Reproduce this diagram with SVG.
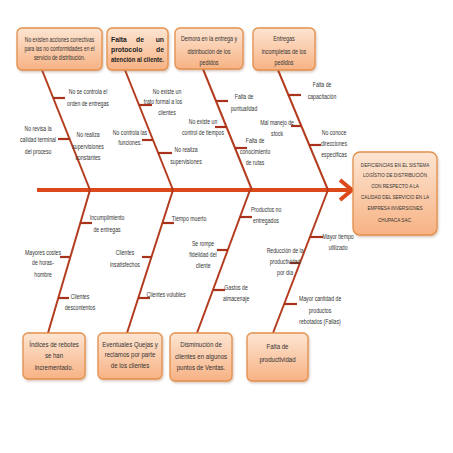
<svg xmlns="http://www.w3.org/2000/svg" width="453" height="453" viewBox="0 0 453 453">
<defs>
<linearGradient id="gb" x1="0" y1="0" x2="0" y2="1">
<stop offset="0" stop-color="#FDE5D2"/>
<stop offset="1" stop-color="#F7B284"/>
</linearGradient>
<filter id="sh" x="-10%" y="-10%" width="130%" height="130%">
<feDropShadow dx="1" dy="1.5" stdDeviation="1" flood-color="#8a5a3a" flood-opacity="0.35"/>
</filter>
</defs>
<style>
.box{fill:url(#gb);stroke:#E3904C;stroke-width:1.3;filter:url(#sh)}
.t,.bt,.tt,.lt,.ht{font-family:"Liberation Sans",Arial,sans-serif;text-anchor:middle;transform:scaleX(0.76);transform-box:fill-box;transform-origin:center}
.t{font-size:6.8px;fill:#333}
.bt{font-size:6.5px;fill:#333}
.tt{font-size:7.1px;fill:#333}
.lt{font-size:8px;fill:#333}
.ht{font-size:6.1px;fill:#333}
.bb{font-family:"Liberation Sans",Arial,sans-serif;font-size:6.8px;fill:#222;font-weight:bold}
.bone{stroke:#B33C1E;stroke-width:2;fill:none}
.rib{stroke:#A8321C;stroke-width:2.2;fill:none}
.spine{stroke:#DC4A1B;stroke-width:4;fill:none}
</style>
<rect width="453" height="453" fill="#ffffff"/>

<g id="connectors">
<line class="spine" x1="37" y1="190" x2="349" y2="190"/>
<path class="spine" d="M340,180 L352,190 L340,200" stroke-linejoin="miter"/>
<line class="bone" x1="42" y1="70" x2="90" y2="190"/>
<line class="bone" x1="125" y1="70" x2="173" y2="190"/>
<line class="bone" x1="203" y1="69" x2="252" y2="190"/>
<line class="bone" x1="278" y1="70" x2="328" y2="190"/>
<line class="bone" x1="90" y1="190" x2="48" y2="333"/>
<line class="bone" x1="173" y1="190" x2="127" y2="333"/>
<line class="bone" x1="250" y1="190" x2="197" y2="333"/>
<line class="bone" x1="328" y1="190" x2="273" y2="333"/>
<line class="rib" x1="53" y1="98" x2="65" y2="98"/>
<line class="rib" x1="58" y1="139" x2="70" y2="139"/>
<line class="rib" x1="139" y1="105" x2="152" y2="105"/>
<line class="rib" x1="142" y1="140" x2="153" y2="140"/>
<line class="rib" x1="158" y1="153" x2="172" y2="153"/>
<line class="rib" x1="216" y1="101" x2="228" y2="101"/>
<line class="rib" x1="215" y1="127" x2="226" y2="127"/>
<line class="rib" x1="235" y1="148" x2="247" y2="148"/>
<line class="rib" x1="288" y1="95" x2="301" y2="95"/>
<line class="rib" x1="291" y1="126" x2="301" y2="126"/>
<line class="rib" x1="309" y1="145" x2="321" y2="145"/>
<line class="rib" x1="80" y1="223" x2="92" y2="223"/>
<line class="rib" x1="60" y1="257" x2="70" y2="257"/>
<line class="rib" x1="58" y1="298" x2="69" y2="298"/>
<line class="rib" x1="162" y1="223" x2="174" y2="223"/>
<line class="rib" x1="142" y1="257" x2="152" y2="257"/>
<line class="rib" x1="138" y1="298" x2="150" y2="298"/>
<line class="rib" x1="240" y1="217" x2="252" y2="217"/>
<line class="rib" x1="217" y1="250" x2="228" y2="250"/>
<line class="rib" x1="213" y1="290" x2="225" y2="290"/>
<line class="rib" x1="310" y1="237" x2="323" y2="237"/>
<line class="rib" x1="290" y1="263" x2="300" y2="263"/>
<line class="rib" x1="284" y1="304" x2="297" y2="304"/>
</g>

<g id="head">
<rect class="box" x="353" y="152" width="84" height="83" rx="7"/>
<text class="ht" x="395" y="167">DEFICIENCIAS EN EL SISTEMA</text>
<text class="ht" x="395" y="177.5">LOGÍSTIO DE DISTRIBUCIÓN</text>
<text class="ht" x="395" y="188.5">CON RESPECTO A LA</text>
<text class="ht" x="395" y="199.5">CALIDAD DEL SERVICIO EN LA</text>
<text class="ht" x="395" y="210.5">EMPRESA INVERSIONES</text>
<text class="ht" x="395" y="222">CHUPACA SAC.</text>
</g>

<g id="cause-top-1">
<rect class="box" x="17" y="28" width="85" height="42" rx="5"/>
<text class="bt" x="59.5" y="42">No existen acciones correctivas</text>
<text class="bt" x="59.5" y="51">para las no conformidades en el</text>
<text class="bt" x="59.5" y="60">servicio de distribución.</text>
</g>
<g id="cause-top-2">
<rect class="box" x="107" y="28" width="61" height="42" rx="5"/>
<text class="bb" y="41.5"><tspan x="111">Falta</tspan><tspan x="140" text-anchor="middle">de</tspan><tspan x="164" text-anchor="end">un</tspan></text>
<text class="bb" y="51.5"><tspan x="111">protocolo</tspan><tspan x="164" text-anchor="end">de</tspan></text>
<text class="bb" x="111" y="61.5" textLength="53" lengthAdjust="spacingAndGlyphs">atención al cliente.</text>
</g>
<g id="cause-top-3">
<rect class="box" x="175" y="28" width="68" height="41" rx="5"/>
<text class="tt" x="209" y="41.5">Demora en la entrega y</text>
<text class="tt" x="209" y="54">distribución de los</text>
<text class="tt" x="209" y="65">pedidos</text>
</g>
<g id="cause-top-4">
<rect class="box" x="253" y="28" width="62" height="42" rx="5"/>
<text class="tt" x="284" y="41.5">Entregas</text>
<text class="tt" x="284" y="54">incompletas de los</text>
<text class="tt" x="284" y="65">pedidos</text>
</g>

<g id="cause-bottom-1">
<rect class="box" x="23" y="333" width="62" height="46" rx="5"/>
<text class="lt" x="54" y="347.5">Índices de rebotes</text>
<text class="lt" x="54" y="358.5">se han</text>
<text class="lt" x="54" y="370.5">incrementado.</text>
</g>
<g id="cause-bottom-2">
<rect class="box" x="98" y="333" width="64" height="46" rx="5"/>
<text class="lt" x="130" y="347.5">Eventuales Quejas y</text>
<text class="lt" x="130" y="357.5">reclamos por  parte</text>
<text class="lt" x="130" y="368.5">de los clientes</text>
</g>
<g id="cause-bottom-3">
<rect class="box" x="170" y="333" width="62" height="48" rx="5"/>
<text class="lt" x="201" y="347.5">Disminución de</text>
<text class="lt" x="201" y="359.5">clientes en algunos</text>
<text class="lt" x="201" y="370.5">puntos de Ventas.</text>
</g>
<g id="cause-bottom-4">
<rect class="box" x="247" y="333" width="61" height="48" rx="5"/>
<text class="lt" x="277.5" y="349.5">Falta de</text>
<text class="lt" x="277.5" y="362.5">productividad</text>
</g>

<g id="sub-causes">
<g id="s1"><text class="t" x="88" y="94">No se controla el</text><text class="t" x="88" y="106">orden de entregas</text></g>
<g id="s2"><text class="t" x="38" y="131">No revisa la</text><text class="t" x="38" y="142.5">calidad terminal</text><text class="t" x="38" y="154">del proceso</text></g>
<g id="s3"><text class="t" x="88" y="137.5">No realiza</text><text class="t" x="88" y="149">supervisiones</text><text class="t" x="88" y="160">constantes</text></g>
<g id="s4"><text class="t" x="167" y="94">No existe un</text><text class="t" x="163" y="104.5">trato formal a los</text><text class="t" x="167" y="115.5">clientes</text></g>
<g id="s5"><text class="t" x="130" y="135">No controla las</text><text class="t" x="130" y="145">funciones.</text></g>
<g id="s6"><text class="t" x="186" y="152">No realiza</text><text class="t" x="186" y="164">supervisiones</text></g>
<g id="s7"><text class="t" x="244" y="99">Falta de</text><text class="t" x="244" y="111">puntualidad</text></g>
<g id="s8"><text class="t" x="203" y="124">No existe un</text><text class="t" x="203" y="135">control de tiempos</text></g>
<g id="s9"><text class="t" x="255" y="143">Falta de</text><text class="t" x="255" y="154">conocimiento</text><text class="t" x="255" y="165">de rutas</text></g>
<g id="s10"><text class="t" x="322" y="87">Falta de</text><text class="t" x="322" y="99">capacitación</text></g>
<g id="s11"><text class="t" x="277" y="125">Mal manejo de</text><text class="t" x="277" y="136">stock</text></g>
<g id="s12"><text class="t" x="334" y="135">No conoce</text><text class="t" x="334" y="146">direcciones</text><text class="t" x="334" y="157">especificas</text></g>
<g id="s13"><text class="t" x="107" y="220">Incumplimiento</text><text class="t" x="107" y="232">de entregas</text></g>
<g id="s14"><text class="t" x="43" y="255">Mayores costes</text><text class="t" x="43" y="265.5">de horas-</text><text class="t" x="43" y="277">hombre</text></g>
<g id="s15"><text class="t" x="80" y="299">Clientes</text><text class="t" x="80" y="310">descontentos</text></g>
<g id="s16"><text class="t" x="189" y="221">Tiempo muerto</text></g>
<g id="s17"><text class="t" x="125" y="255">Clientes</text><text class="t" x="125" y="267">insatisfechos</text></g>
<g id="s18"><text class="t" x="166" y="297">Clientes volubles</text></g>
<g id="s19"><text class="t" x="266" y="212">Productos no</text><text class="t" x="266" y="223">entregados</text></g>
<g id="s20"><text class="t" x="203" y="246">Se rompe</text><text class="t" x="203" y="257">fidelidad del</text><text class="t" x="203" y="268">cliente</text></g>
<g id="s21"><text class="t" x="236" y="290">Gastos de</text><text class="t" x="236" y="301">almacenaje</text></g>
<g id="s22"><text class="t" x="338" y="239">Mayor tiempo</text><text class="t" x="338" y="250">utilizado</text></g>
<g id="s23"><text class="t" x="285" y="253">Reducción de la</text><text class="t" x="285" y="264">productividad</text><text class="t" x="285" y="275">por día</text></g>
<g id="s24"><text class="t" x="320" y="301">Mayor cantidad de</text><text class="t" x="320" y="313">productos</text><text class="t" x="320" y="324">rebotados (Fallas)</text></g>
</g>
</svg>
